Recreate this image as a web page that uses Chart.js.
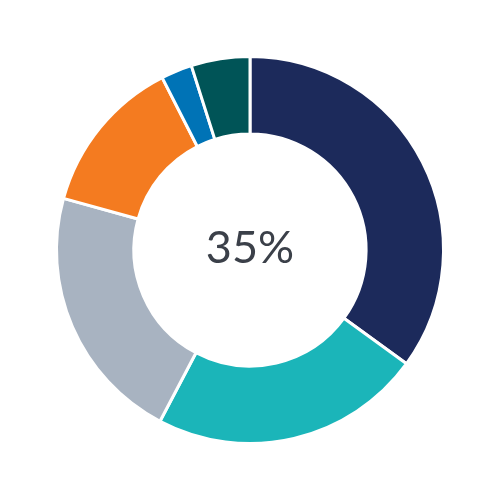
<!DOCTYPE html>
<html>
<head>
<meta charset="utf-8">
<script src="https://cdn.jsdelivr.net/npm/chart.js@4"></script>
<style>
    html, body { margin: 0; padding: 0; background: #ffffff; }
    #grafico { width: 500px; height: 500px; }
</style>
</head>
<body>
<div id="grafico"><canvas id="graficoRosca"></canvas></div>
<script>
const categorias = ['Segmento A', 'Segmento B', 'Segmento C', 'Segmento D', 'Segmento E', 'Segmento F'];
const valores = [35, 22.7, 21.6, 13.2, 2.6, 4.9];
const cores = ['#1c2a5b', '#1bb5b9', '#a8b3c1', '#f47b20', '#0073b6', '#005457'];
const textoCentro = '35%';

// texto no meio da rosca
const textoCentral = {
    id: 'textoCentral',
    afterDraw(chart) {
        const meta = chart.getDatasetMeta(0).data[0];
        if (!meta) return;
        const ctx = chart.ctx;
        ctx.save();
        ctx.font = '400 45px Lato';
        ctx.fillStyle = '#3b4049';
        ctx.textAlign = 'center';
        ctx.textBaseline = 'alphabetic';
        ctx.fillText(textoCentro, meta.x, meta.y + 13);
        ctx.restore();
    }
};

new Chart(document.getElementById('graficoRosca').getContext('2d'), {
    type: 'doughnut',
    data: {
        labels: categorias,
        datasets: [{
            data: valores,
            backgroundColor: cores,
            borderColor: '#ffffff',
            borderWidth: 3
        }]
    },
    options: {
        responsive: true,
        maintainAspectRatio: false,
        animation: false,
        cutout: '60%',
        layout: { padding: 55 },
        plugins: {
            legend: { display: false },
            tooltip: { enabled: false }
        }
    },
    plugins: [textoCentral]
});
</script>
</body>
</html>
